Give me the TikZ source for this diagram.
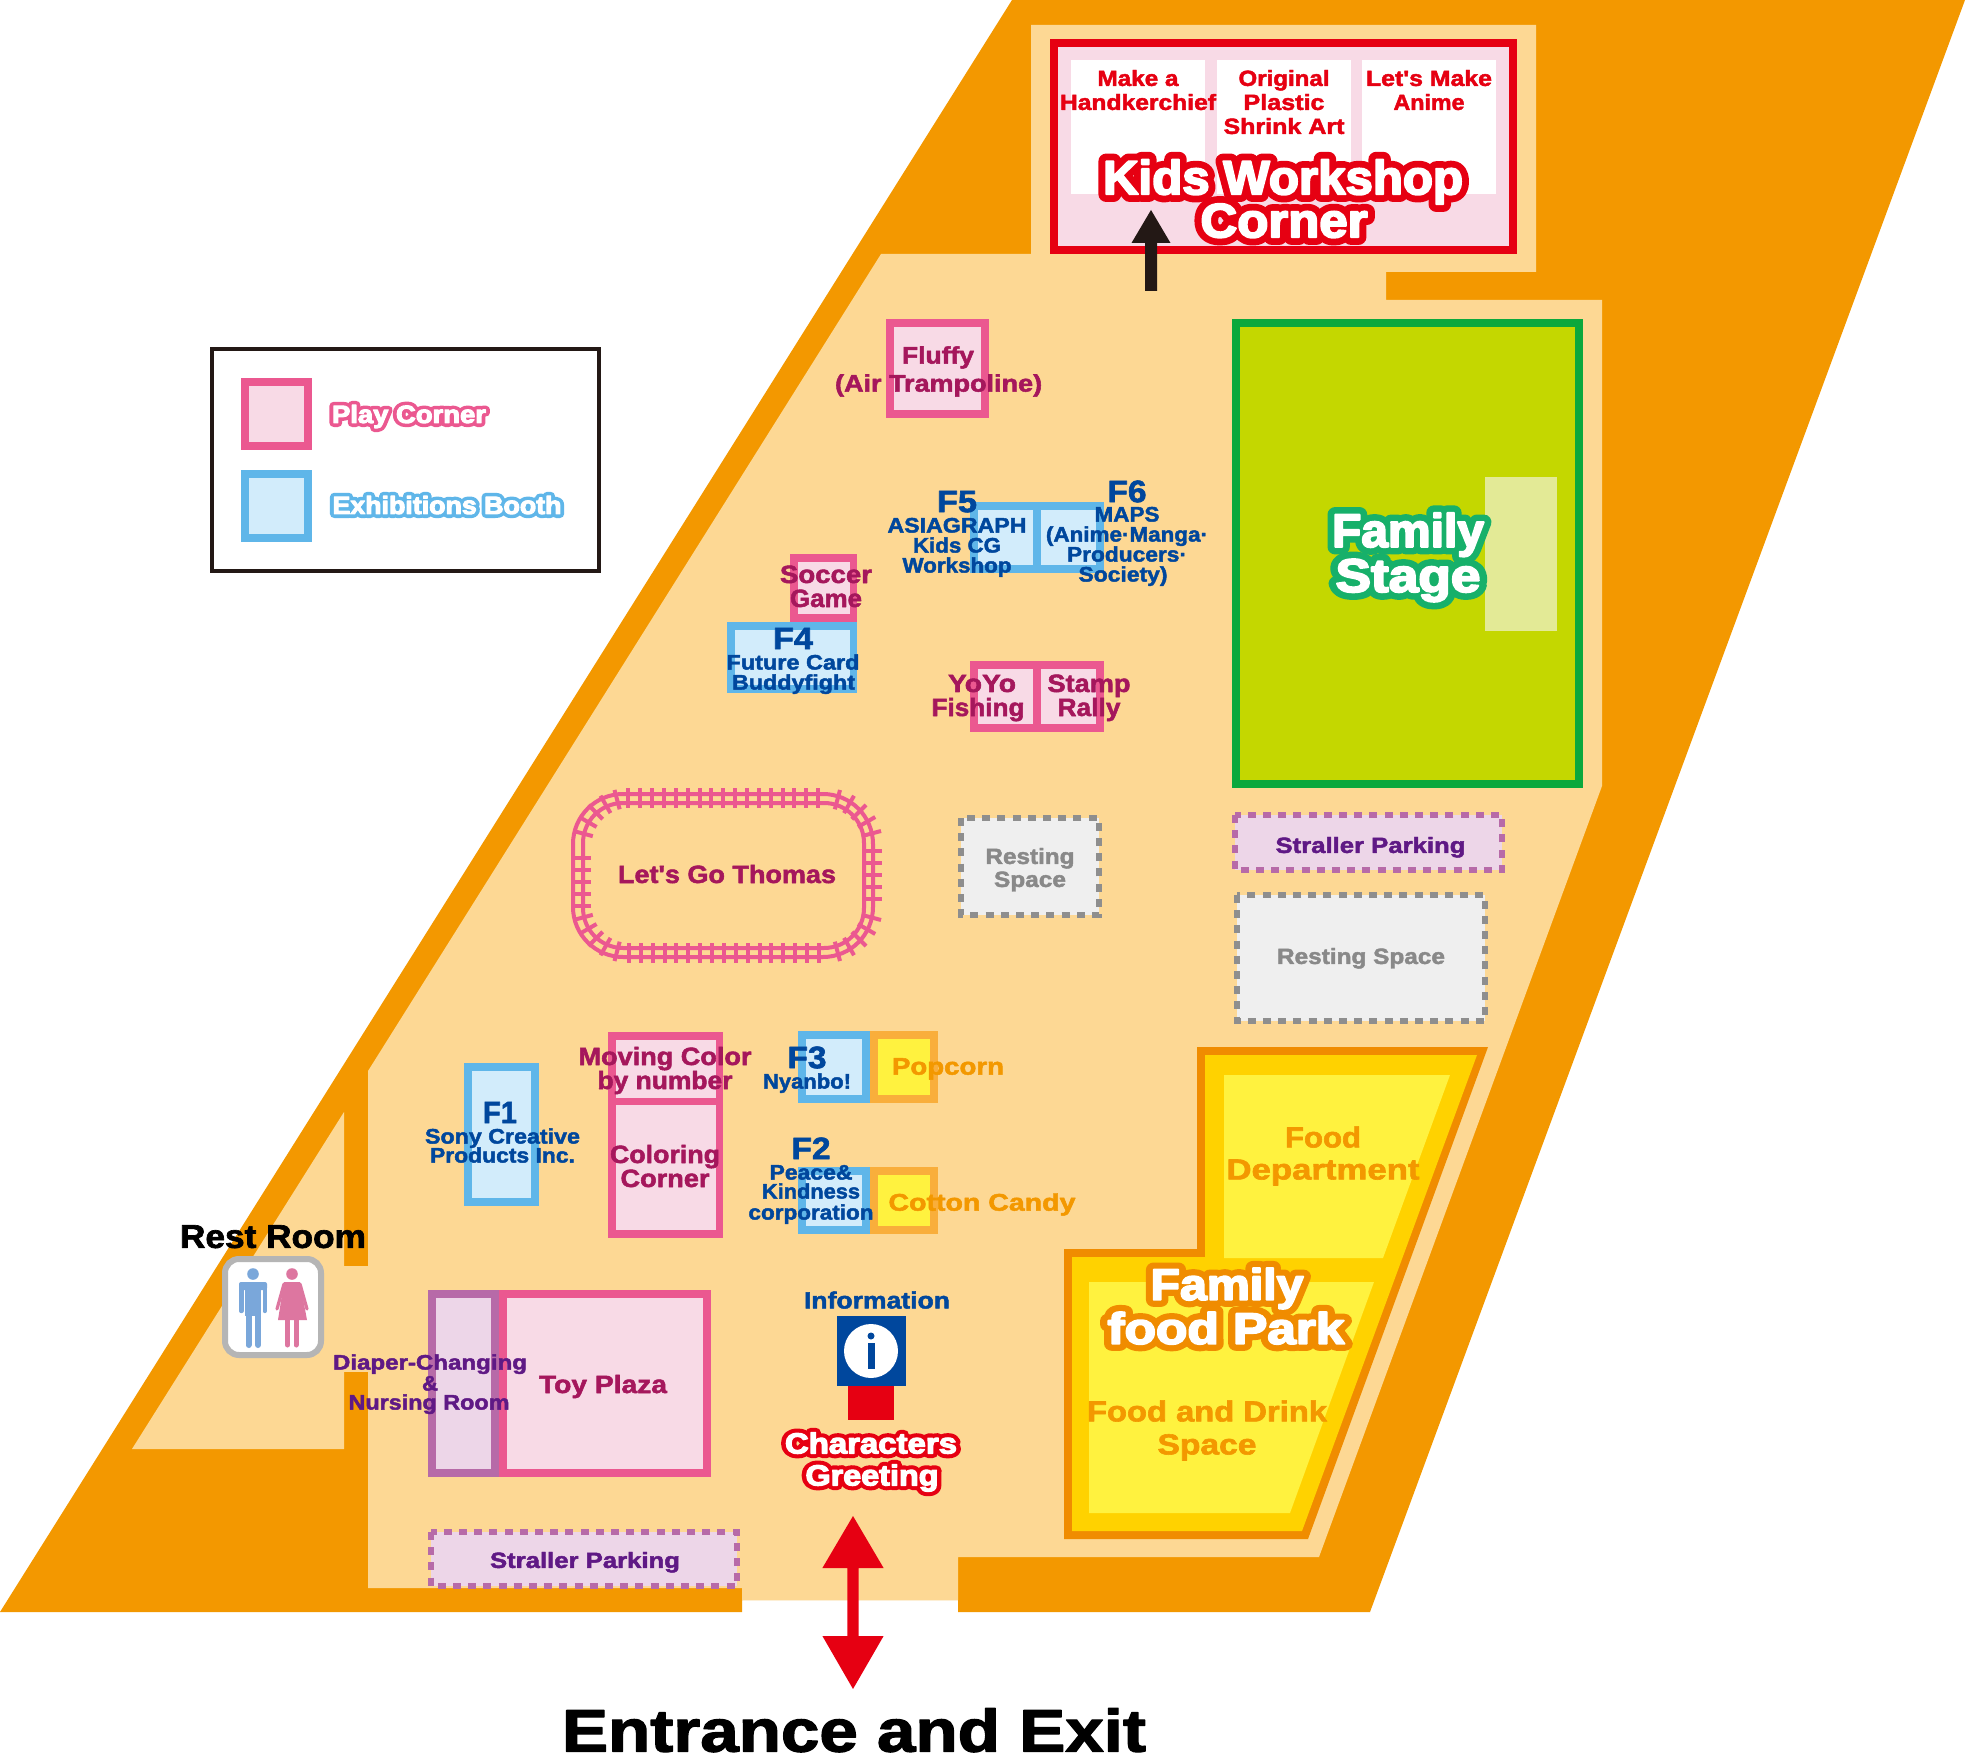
\documentclass[tikz,border=0pt]{standalone}
\usepackage{graphicx}
\usepackage{fontspec}
\setmainfont{Liberation Sans}
\newfontfamily\basefam{Liberation Sans Bold}[FakeBold=2]
\newfontfamily\whitefam{Liberation Sans Bold}[FakeBold=4]
\newfontfamily\fatfam{Liberation Sans Bold}[FakeBold=32]
\definecolor{orangeW}{HTML}{F39800}
\definecolor{floorC}{HTML}{FDD894}
\definecolor{pinkS}{HTML}{EB5890}
\definecolor{pinkF}{HTML}{F8DAE6}
\definecolor{pinkT}{HTML}{A5175C}
\definecolor{blueS}{HTML}{5FB6E9}
\definecolor{blueF}{HTML}{D2ECFB}
\definecolor{blueT}{HTML}{00479D}
\definecolor{redC}{HTML}{E60012}
\definecolor{greenS}{HTML}{0BA83C}
\definecolor{greenO}{HTML}{17B06A}
\definecolor{stageF}{HTML}{C4D700}
\definecolor{stageP}{HTML}{E3EA96}
\definecolor{purpS}{HTML}{B76AA8}
\definecolor{purpF}{HTML}{EDD6E8}
\definecolor{purpT}{HTML}{5F1985}
\definecolor{grayS}{HTML}{8E8E8E}
\definecolor{grayF}{HTML}{EFEFEF}
\definecolor{grayT}{HTML}{898989}
\definecolor{yelA}{HTML}{FFF23F}
\definecolor{yelB}{HTML}{FFD200}
\definecolor{orO}{HTML}{F08C00}
\definecolor{orB}{HTML}{F9AE3B}
\definecolor{iconS}{HTML}{B5B5B5}
\definecolor{manC}{HTML}{7AA7DA}
\definecolor{womanC}{HTML}{DD76A0}
\definecolor{inkC}{HTML}{231815}
\tikzset{
  zonebox/.style n args={2}{line width=3.8pt,draw=#1,fill=#2,line join=miter},
  dashbox/.style n args={2}{line width=2.6pt,draw=#1,fill=#2,dash pattern=on 4pt off 3.6pt},
  lblnode/.style={inner sep=0pt,anchor=base},
  tierule/.style={line width=2pt,draw=pinkS},
  railrule/.style={line width=2pt,draw=pinkS}
}
% name, x, y, font px, width px, colour, text
\newcommand{\lbl}[7]{%
  \pgfmathsetmacro\lblby{#3+0.36*#4}\pgfmathsetmacro\lblfs{#4/2}%
  \begin{scope}[line join=round]
  \node[lblnode,text=#6] (#1) at (#2,\lblby) {\resizebox{\dimexpr#5pt/2\relax}{\height}{\fontsize{\lblfs pt}{\lblfs pt}\basefam #7}};
  \end{scope}}
% name, x, y, font px, width px, outline colour, text
\newcommand{\olbl}[7]{%
  \pgfmathsetmacro\lblby{#3+0.36*#4}\pgfmathsetmacro\lblfs{#4/2}%
  \begin{scope}[line join=round]
  \node[lblnode,text=#6] (#1o) at (#2,\lblby) {\resizebox{\dimexpr#5pt/2\relax}{\height}{\fontsize{\lblfs pt}{\lblfs pt}\fatfam #7}};
  \node[lblnode,text=white] (#1) at (#2,\lblby) {\resizebox{\dimexpr#5pt/2\relax}{\height}{\fontsize{\lblfs pt}{\lblfs pt}\whitefam #7}};
  \end{scope}}
\begin{document}
\begin{tikzpicture}[x=0.5pt,y=-0.5pt]
\useasboundingbox (0,0) rectangle (1965,1754);
% building
\fill[orangeW] (1012,0) -- (1965,0) -- (1370,1612) -- (958,1612) -- (958,1600) -- (742,1600) -- (742,1612) -- (0,1612) -- cycle;
\fill[floorC] (881,254) -- (1031,254) -- (1031,25) -- (1536,25) -- (1536,272) -- (1386,272) -- (1386,300) -- (1602,300) -- (1602,786) -- (1319,1557) -- (958,1557) -- (958,1600) -- (742,1600) -- (742,1588) -- (368,1588) -- (368,1071) -- cycle;
\fill[floorC] (344,1112) -- (344,1449) -- (132,1449) -- cycle;
\fill[floorC] (344,1266) rectangle (368,1372);
% workshop
\draw[zonebox={redC}{pinkF}] (1054,43) rectangle (1513,250);
\fill[white] (1071,60) rectangle (1205,194);
\fill[white] (1217,60) rectangle (1351,194);
\fill[white] (1362,60) rectangle (1496,194);
% black arrow
\fill[inkC] (1151,210) -- (1170.5,243) -- (1157,243) -- (1157,291) -- (1145,291) -- (1145,243) -- (1131.5,243) -- cycle;
% stage
\draw[zonebox={greenS}{stageF}] (1236,323) rectangle (1579,784);
\fill[stageP] (1485,477) rectangle (1557,631);
% legend
\draw[line width=2pt,draw=inkC,fill=white] (212,349) rectangle (599,571);
\draw[zonebox={pinkS}{pinkF}] (245,382) rectangle (308,446);
\draw[zonebox={blueS}{blueF}] (245,474) rectangle (308,538);
% play and exhibition boxes
\draw[zonebox={pinkS}{pinkF}] (890,323) rectangle (985,414);
\draw[zonebox={blueS}{blueF}] (974,506) rectangle (1037,569);
\draw[zonebox={blueS}{blueF}] (1037,506) rectangle (1100,569);
\draw[zonebox={pinkS}{pinkF}] (794,558) rectangle (853.5,618);
\draw[zonebox={blueS}{blueF}] (731,626) rectangle (853.5,689);
\draw[zonebox={pinkS}{pinkF}] (974,665) rectangle (1037,728);
\draw[zonebox={pinkS}{pinkF}] (1037,665) rectangle (1100,728);
\draw[zonebox={blueS}{blueF}] (468,1067) rectangle (535,1202);
\draw[zonebox={pinkS}{pinkF}] (612,1036) rectangle (719.5,1101.5);
\draw[zonebox={pinkS}{pinkF}] (612,1101.5) rectangle (719.5,1234);
\draw[zonebox={blueS}{blueF}] (802,1035) rectangle (866,1099);
\draw[zonebox={orB}{yelA}] (874,1035) rectangle (934,1099);
\draw[zonebox={blueS}{blueF}] (802,1171) rectangle (866,1230);
\draw[zonebox={orB}{yelA}] (874,1171) rectangle (934,1230);
\draw[zonebox={pinkS}{pinkF}] (503,1294) rectangle (707,1473);
\draw[zonebox={purpS}{purpF}] (432,1294) rectangle (495,1473);
% dashed areas
\draw[dashbox={purpS}{purpF}] (431,1532) rectangle (737,1586);
\draw[dashbox={purpS}{purpF}] (1235,815) rectangle (1502,870);
\draw[dashbox={grayS}{grayF}] (961,818) rectangle (1099,915);
\draw[dashbox={grayS}{grayF}] (1237,895) rectangle (1485,1021);
% train track
\draw[railrule,rounded corners=25pt] (573,794) rectangle (873,957);
\draw[railrule,rounded corners=20pt] (583,803) rectangle (864,948);
\foreach \i in {0,...,16} {
  \draw[tierule] ({628.3+11.87*\i},788) -- ({628.3+11.87*\i},808);
  \draw[tierule] ({629+11.87*\i},943) -- ({629+11.87*\i},963);
}
\foreach \i in {0,...,4} {
  \draw[tierule] (572,{858+12*\i}) -- (591,{858+12*\i});
  \draw[tierule] (864,{851+12*\i}) -- (882,{851+12*\i});
}
\foreach \a in {15,30,45,60,75} {
  \draw[tierule,shift={(825,905)}] (\a:38) -- (\a:58);
  \draw[tierule,shift={(629.5,905)}] (90+\a:38) -- (90+\a:58);
  \draw[tierule,shift={(629.5,846)}] (180+\a:38) -- (180+\a:58);
  \draw[tierule,shift={(825,846)}] (270+\a:38) -- (270+\a:58);
}
% food park
\fill[orO] (1197,1047) -- (1488,1047) -- (1308,1539) -- (1064,1539) -- (1064,1249) -- (1197,1249) -- cycle;
\fill[yelB] (1205,1055) -- (1477,1055) -- (1302,1531) -- (1072,1531) -- (1072,1257) -- (1205,1257) -- cycle;
\fill[yelA] (1224,1075) -- (1450,1075) -- (1383,1258) -- (1224,1258) -- cycle;
\fill[yelA] (1089,1282) -- (1374,1282) -- (1290,1513) -- (1089,1513) -- cycle;
% rest room icon
\draw[line width=3pt,draw=iconS,fill=white,rounded corners=7pt] (225,1259) rectangle (321,1355);
\fill[manC] (253,1274) circle (5.8);
\fill[manC,rounded corners=1pt] (239,1282) rectangle (267,1290);
\fill[manC] (245,1284) rectangle (261,1316);
\draw[manC,line width=2.2pt,line cap=round] (241.3,1286) -- (241.3,1311);
\draw[manC,line width=2.2pt,line cap=round] (264.7,1286) -- (264.7,1311);
\draw[manC,line width=3pt,line cap=round] (248.5,1312) -- (248.5,1345);
\draw[manC,line width=3pt,line cap=round] (258,1312) -- (258,1345);
\fill[womanC] (292,1274) circle (5.8);
\fill[womanC] (284,1282) -- (300,1282) -- (307,1320) -- (278,1320) -- cycle;
\draw[womanC,line width=1.6pt,line cap=round] (284,1284) -- (277,1309);
\draw[womanC,line width=1.6pt,line cap=round] (300,1284) -- (307,1309);
\draw[womanC,line width=2.5pt,line cap=round] (287.5,1318) -- (287.5,1345);
\draw[womanC,line width=2.5pt,line cap=round] (296,1318) -- (296,1345);
% information
\fill[blueT] (837,1316) rectangle (906,1386);
\fill[white] (871,1351) ellipse (27 and 27);
\fill[blueT] (871,1336) circle (3.5);
\fill[blueT] (867.5,1343) rectangle (874.5,1369);
\fill[redC] (848,1386) rectangle (894,1420);
% entrance arrow
\fill[redC] (853,1516) -- (883.6,1568) -- (858.7,1568) -- (858.7,1636) -- (883.6,1636) -- (853,1689) -- (822.4,1636) -- (847.3,1636) -- (847.3,1568) -- (822.4,1568) -- cycle;
% labels
\lbl{ma}{1138}{78}{22}{81}{redC}{Make a}
\lbl{mb}{1138}{102}{22}{156}{redC}{Handkerchief}
\lbl{oa}{1284}{78}{22}{91}{redC}{Original}
\lbl{ob}{1284}{102}{22}{81}{redC}{Plastic}
\lbl{oc}{1284}{126}{22}{121}{redC}{Shrink Art}
\lbl{la}{1429}{78}{22}{126}{redC}{Let's Make}
\lbl{lb}{1429}{102}{22}{71}{redC}{Anime}
\olbl{kw}{1283}{177}{48}{360}{redC}{Kids Workshop}
\olbl{kc}{1284}{220}{48}{167}{redC}{Corner}
\lbl{fa}{938}{355}{24}{72}{pinkT}{Fluffy}
\lbl{fb}{938.6}{383}{24}{207}{pinkT}{(Air Trampoline)}
\lbl{f5}{957}{501}{31}{40}{blueT}{F5}
\lbl{f5a}{957}{525}{21}{139}{blueT}{ASIAGRAPH}
\lbl{f5b}{957}{545}{21}{88}{blueT}{Kids CG}
\lbl{f5c}{957}{565}{21}{109}{blueT}{Workshop}
\lbl{f6}{1127}{491}{31}{39}{blueT}{F6}
\lbl{f6a}{1127}{514}{21}{65}{blueT}{MAPS}
\lbl{f6b}{1127}{534}{21}{162}{blueT}{(Anime·Manga·}
\lbl{f6c}{1127}{554}{21}{120}{blueT}{Producers·}
\lbl{f6d}{1123}{574}{21}{89}{blueT}{Society)}
\lbl{sa}{826}{574}{25}{92}{pinkT}{Soccer}
\lbl{sb}{826}{598}{25}{72}{pinkT}{Game}
\lbl{f4}{793}{638}{31}{40}{blueT}{F4}
\lbl{f4a}{793}{662}{21}{133}{blueT}{Future Card}
\lbl{f4b}{793.5}{682}{21}{123}{blueT}{Buddyfight}
\lbl{ya}{982}{683}{25}{68}{pinkT}{YoYo}
\lbl{yb}{978}{707}{25}{93}{pinkT}{Fishing}
\lbl{ra}{1089}{683}{25}{83}{pinkT}{Stamp}
\lbl{rb}{1089}{707}{25}{63}{pinkT}{Rally}
\olbl{sta}{1408}{530}{47}{152}{greenO}{Family}
\olbl{stb}{1408}{575}{47}{145}{greenO}{Stage}
\lbl{th}{727}{874}{25}{218}{pinkT}{Let's Go Thomas}
\lbl{rsa}{1030}{856}{22}{89}{grayT}{Resting}
\lbl{rsb}{1030}{879}{22}{72}{grayT}{Space}
\lbl{spr}{1370.5}{845}{22}{190}{purpT}{Straller Parking}
\lbl{rsc}{1361}{956}{22}{168}{grayT}{Resting Space}
\lbl{f1}{500}{1112}{31}{34}{blueT}{F1}
\lbl{f1a}{502.5}{1136}{21}{155}{blueT}{Sony Creative}
\lbl{f1b}{502.5}{1155}{21}{145}{blueT}{Products Inc.}
\lbl{mc}{665}{1056}{25}{173}{pinkT}{Moving Color}
\lbl{mn}{665}{1080}{25}{135}{pinkT}{by number}
\lbl{cc}{665}{1154}{25}{110}{pinkT}{Coloring}
\lbl{cd}{665}{1178}{25}{89}{pinkT}{Corner}
\lbl{f3}{807}{1057}{31}{39}{blueT}{F3}
\lbl{f3a}{807}{1081}{21}{88}{blueT}{Nyanbo!}
\lbl{pop}{948}{1066}{24}{112}{orangeW}{Popcorn}
\lbl{f2}{811}{1148}{31}{39}{blueT}{F2}
\lbl{f2a}{811}{1172}{21}{83}{blueT}{Peace\&}
\lbl{f2b}{811}{1191}{21}{98}{blueT}{Kindness}
\lbl{f2c}{811}{1212}{21}{125}{blueT}{corporation}
\lbl{cot}{982}{1202}{24}{187}{orangeW}{Cotton Candy}
\lbl{fda}{1323}{1137}{29}{76}{orangeW}{Food}
\lbl{fdb}{1323}{1169}{29}{193}{orangeW}{Department}
\lbl{fsa}{1207}{1411}{29}{240}{orangeW}{Food and Drink}
\lbl{fsb}{1207}{1444}{29}{99}{orangeW}{Space}
\olbl{fpa}{1227}{1284}{44}{153}{orO}{Family}
\olbl{fpb}{1226}{1328}{44}{237}{orO}{food Park}
\lbl{info}{877}{1300}{23.5}{146}{blueT}{Information}
\olbl{cha}{871}{1443}{29}{172}{redC}{Characters}
\olbl{chb}{872}{1475}{29}{133}{redC}{Greeting}
\lbl{rest}{273}{1236}{33}{186}{black}{Rest Room}
\lbl{da}{430}{1362}{21}{194}{purpT}{Diaper-Changing}
\lbl{db}{430}{1383}{21}{16}{purpT}{\&}
\lbl{dc}{429}{1402}{21}{161}{purpT}{Nursing Room}
\lbl{toy}{603}{1384}{25}{128}{pinkT}{Toy Plaza}
\lbl{spb}{585}{1560}{22}{190}{purpT}{Straller Parking}
\lbl{ent}{854}{1730}{60}{584}{black}{Entrance and Exit}
\olbl{lgp}{409}{414}{25}{154}{pinkS}{Play Corner}
\olbl{lgb}{447}{505}{25}{229}{blueS}{Exhibitions Booth}
\end{tikzpicture}
\end{document}
